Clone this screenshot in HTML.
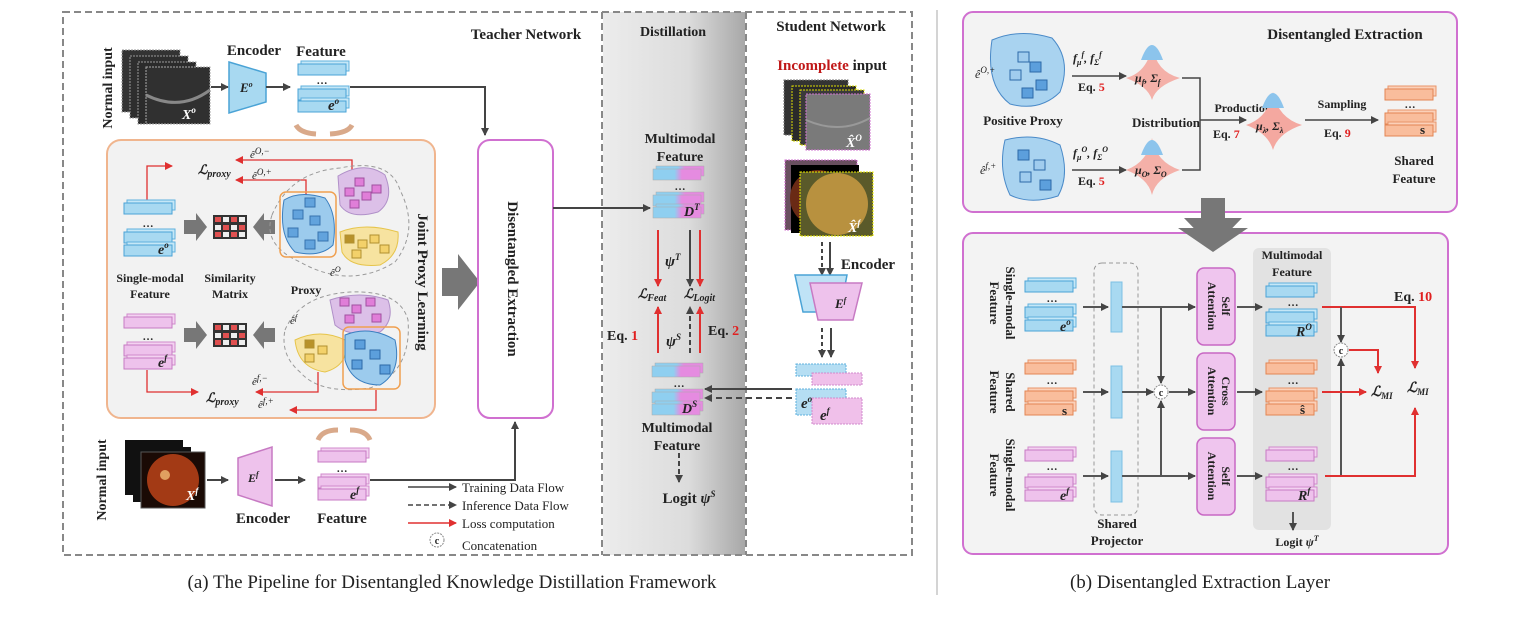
<!DOCTYPE html>
<html><head><meta charset="utf-8"><style>
html,body{margin:0;padding:0;background:#fff}
svg{display:block}
text{font-family:"Liberation Serif",serif;font-weight:bold;fill:#222}
.i{font-style:italic}
.n{font-weight:normal}
</style></head><body>
<svg width="1532" height="629" viewBox="0 0 1532 629" xmlns="http://www.w3.org/2000/svg">
<defs>
<linearGradient id="dg" x1="0" x2="1"><stop offset="0" stop-color="#ececec"/><stop offset="0.6" stop-color="#dcdcdc"/><stop offset="1" stop-color="#a8a8a8"/></linearGradient>
<linearGradient id="mm" x1="0" x2="1"><stop offset="0.45" stop-color="#8fcff0"/><stop offset="0.6" stop-color="#e58be0"/></linearGradient>
<g id="bB"><rect x="3" y="0" width="48" height="10" fill="#c5e7f7" stroke="#5fb0dd"/><rect x="0" y="3" width="48" height="11" fill="#a8d9f1" stroke="#4aa3d6"/></g>
<g id="bO"><rect x="3" y="0" width="48" height="10" fill="#fbd0b8" stroke="#e8956a"/><rect x="0" y="3" width="48" height="11" fill="#f9bd9c" stroke="#e38553"/></g>
<g id="bP"><rect x="3" y="0" width="48" height="10" fill="#f3d2f1" stroke="#d08acc"/><rect x="0" y="3" width="48" height="11" fill="#eec2ec" stroke="#c77ac3"/></g>
<g id="bM"><rect x="3" y="0" width="48" height="10" fill="url(#mm)" stroke="#aaa" stroke-width="0.5"/><rect x="0" y="3" width="48" height="11" fill="url(#mm)" stroke="#aaa" stroke-width="0.5"/></g>
<marker id="ak" markerWidth="8" markerHeight="8" refX="7" refY="4" orient="auto" markerUnits="userSpaceOnUse"><path d="M0,0 L8,4 L0,8 z" fill="#444"/></marker>
<marker id="ar" markerWidth="8" markerHeight="8" refX="7" refY="4" orient="auto" markerUnits="userSpaceOnUse"><path d="M0,0 L8,4 L0,8 z" fill="#e03030"/></marker>
</defs>

<!-- ===== (a) ===== -->
<rect x="603" y="12" width="142" height="543" fill="url(#dg)"/>
<rect x="63" y="12" width="849" height="543" fill="none" stroke="#888" stroke-width="2" stroke-dasharray="7,4"/>
<line x1="602" y1="12" x2="602" y2="555" stroke="#888" stroke-width="2" stroke-dasharray="7,4"/>
<line x1="746" y1="12" x2="746" y2="555" stroke="#888" stroke-width="2" stroke-dasharray="7,4"/>
<text x="526" y="39" font-size="15" text-anchor="middle">Teacher Network</text>
<text x="673" y="36" font-size="14" text-anchor="middle">Distillation</text>
<text x="831" y="31" font-size="15" text-anchor="middle">Student Network</text>

<!-- top normal input -->
<text transform="translate(112,88) rotate(-90)" font-size="14" text-anchor="middle">Normal input</text>
<rect x="122" y="50" width="58" height="62" fill="#333" stroke="#999" stroke-dasharray="2,1"/>
<rect x="130" y="56" width="58" height="62" fill="#2e2e2e" stroke="#999" stroke-dasharray="2,1"/>
<rect x="138" y="62" width="58" height="62" fill="#2b2b2b" stroke="#999" stroke-dasharray="2,1"/>
<rect x="146" y="67" width="64" height="57" fill="#303030" stroke="#aaa" stroke-dasharray="2,1"/>
<path d="M146,95 Q180,112 210,90" stroke="#888" stroke-width="3" fill="none"/>
<text x="182" y="119" font-size="14" class="i" fill="#fff" style="fill:#fff">X<tspan font-size="9" dy="-6">o</tspan></text>
<line x1="211" y1="87" x2="228" y2="87" stroke="#444" stroke-width="2" marker-end="url(#ak)"/>
<text x="254" y="55" font-size="15" text-anchor="middle">Encoder</text>
<polygon points="229,62 266,73 266,102 229,113" fill="#a8d9f1" stroke="#4aa3d6" stroke-width="1.5"/>
<text x="240" y="92" font-size="13" class="i">E<tspan font-size="8" dy="-5">o</tspan></text>
<line x1="266" y1="87" x2="290" y2="87" stroke="#444" stroke-width="2" marker-end="url(#ak)"/>
<text x="321" y="56" font-size="15" text-anchor="middle">Feature</text>
<use href="#bB" x="298" y="61"/><text x="322" y="84" font-size="11" text-anchor="middle">…</text>
<use href="#bB" x="298" y="86"/><use href="#bB" x="298" y="98"/>
<text x="328" y="110" font-size="15" class="i">e<tspan font-size="9" dy="-6">o</tspan></text>
<path d="M296,125 Q300,133 316,134" stroke="#d9a98a" stroke-width="5" fill="none"/><path d="M330,134 Q348,133 352,125" stroke="#d9a98a" stroke-width="5" fill="none"/>
<polyline points="350,87 485,87 485,135" fill="none" stroke="#444" stroke-width="2" marker-end="url(#ak)"/>

<!-- Joint proxy box -->
<rect x="107" y="140" width="328" height="278" rx="14" fill="#f2f2f2" stroke="#f0b58e" stroke-width="2"/>
<text transform="translate(418,282) rotate(90)" font-size="15" text-anchor="middle">Joint Proxy Learning</text>
<polygon points="442,268 458,268 458,254 480,282 458,310 458,296 442,296" fill="#777"/>
<rect x="478" y="140" width="75" height="278" rx="12" fill="#fff" stroke="#d070d0" stroke-width="2"/>
<text transform="translate(508,279) rotate(90)" font-size="15" text-anchor="middle">Disentangled Extraction</text>
<line x1="553" y1="208" x2="650" y2="208" stroke="#444" stroke-width="2" marker-end="url(#ak)"/>

<!-- upper proxy -->
<text x="198" y="174" font-size="13" class="i">ℒ<tspan font-size="10" dy="3">proxy</tspan></text>
<text x="250" y="158" font-size="11" class="i n">ê<tspan font-size="9" dy="-4">O,−</tspan></text>
<text x="252" y="179" font-size="11" class="i n">ê<tspan font-size="9" dy="-4">O,+</tspan></text>
<polyline points="352,203 352,160 236,160" fill="none" stroke="#e03030" stroke-width="1.3" marker-end="url(#ar)"/>
<polyline points="306,210 306,180 236,180" fill="none" stroke="#e03030" stroke-width="1.3" marker-end="url(#ar)"/>
<polyline points="147,200 147,166 172,166" fill="none" stroke="#e03030" stroke-width="1.3" marker-end="url(#ar)"/>
<use href="#bB" x="124" y="200"/><text x="148" y="227" font-size="11" text-anchor="middle">…</text>
<use href="#bB" x="124" y="229"/><use href="#bB" x="124" y="242"/>
<text x="158" y="254" font-size="14" class="i">e<tspan font-size="9" dy="-6">o</tspan></text>
<text x="150" y="282" font-size="12" text-anchor="middle">Single-modal</text><text x="150" y="298" font-size="12" text-anchor="middle">Feature</text>
<polygon points="184,220 196,220 196,213 207,227 196,241 196,234 184,234" fill="#777"/>
<g transform="translate(213,215)"><rect width="34" height="24" fill="#333"/>
<g fill="#e05050"><rect x="2" y="2" width="6" height="5"/><rect x="18" y="2" width="6" height="5"/><rect x="10" y="10" width="6" height="5"/><rect x="26" y="10" width="6" height="5"/><rect x="2" y="17" width="6" height="5"/><rect x="18" y="17" width="6" height="5"/></g>
<g fill="#eee"><rect x="10" y="2" width="6" height="5"/><rect x="26" y="2" width="6" height="5"/><rect x="2" y="10" width="6" height="5"/><rect x="18" y="10" width="6" height="5"/><rect x="10" y="17" width="6" height="5"/><rect x="26" y="17" width="6" height="5"/></g></g>
<text x="230" y="282" font-size="12" text-anchor="middle">Similarity</text><text x="230" y="298" font-size="12" text-anchor="middle">Matrix</text>
<polygon points="275,220 264,220 264,213 253,227 264,241 264,234 275,234" fill="#777"/>
<path d="M272,215 Q290,172 340,168 Q390,158 400,190 Q420,230 395,262 Q350,290 300,262 Q262,245 272,215 z" fill="none" stroke="#999" stroke-dasharray="4,3"/>
<path d="M284,200 Q300,190 325,198 Q338,215 333,245 Q320,258 295,252 Q278,235 284,200 z" fill="#9ccbed" stroke="#3a7fc0"/>
<rect x="280" y="192" width="56" height="65" rx="6" fill="none" stroke="#f0a050" stroke-width="1.5"/>
<g fill="#5c9fdc" stroke="#2d6aa8" opacity="0.9"><rect x="305" y="198" width="10" height="9"/><rect x="293" y="210" width="10" height="9"/><rect x="310" y="216" width="10" height="9"/><rect x="288" y="228" width="10" height="9"/><rect x="318" y="232" width="10" height="9"/><rect x="305" y="240" width="10" height="9"/></g>
<path d="M338,176 Q365,160 385,175 Q395,200 378,212 Q350,220 340,205 z" fill="#dcc0e8" stroke="#b090c8"/>
<g fill="#e07ed8" stroke="#a050a0"><rect x="355" y="178" width="9" height="8"/><rect x="345" y="188" width="9" height="8"/><rect x="362" y="192" width="9" height="8"/><rect x="350" y="200" width="9" height="8"/><rect x="372" y="185" width="9" height="8"/></g>
<path d="M340,232 Q365,222 398,232 Q400,255 380,265 Q350,268 342,252 z" fill="#f7e3a0" stroke="#e6c44a"/>
<g fill="#f3d16a" stroke="#b09030"><rect x="345" y="235" width="9" height="8" fill="#b8922a"/><rect x="358" y="240" width="9" height="8"/><rect x="370" y="235" width="9" height="8"/><rect x="352" y="250" width="9" height="8"/><rect x="380" y="245" width="9" height="8"/></g>
<text x="330" y="276" font-size="11" class="i n">ê<tspan font-size="8" dy="-4">O</tspan></text>
<text x="306" y="294" font-size="12" text-anchor="middle">Proxy</text>

<!-- lower proxy -->
<use href="#bP" x="124" y="314"/><text x="148" y="340" font-size="11" text-anchor="middle">…</text>
<use href="#bP" x="124" y="342"/><use href="#bP" x="124" y="355"/>
<text x="158" y="367" font-size="14" class="i">e<tspan font-size="9" dy="-6">f</tspan></text>
<polyline points="147,370 147,392 198,392" fill="none" stroke="#e03030" stroke-width="1.3" marker-end="url(#ar)"/>
<polygon points="184,328 196,328 196,321 207,335 196,349 196,342 184,342" fill="#777"/>
<g transform="translate(213,323)"><rect width="34" height="24" fill="#333"/>
<g fill="#e05050"><rect x="2" y="2" width="6" height="5"/><rect x="18" y="2" width="6" height="5"/><rect x="10" y="10" width="6" height="5"/><rect x="26" y="10" width="6" height="5"/><rect x="2" y="17" width="6" height="5"/><rect x="18" y="17" width="6" height="5"/></g>
<g fill="#eee"><rect x="10" y="2" width="6" height="5"/><rect x="26" y="2" width="6" height="5"/><rect x="2" y="10" width="6" height="5"/><rect x="18" y="10" width="6" height="5"/><rect x="10" y="17" width="6" height="5"/><rect x="26" y="17" width="6" height="5"/></g></g>
<polygon points="275,328 264,328 264,321 253,335 264,349 264,342 275,342" fill="#777"/>
<path d="M285,330 Q300,295 350,292 Q400,290 408,320 Q412,372 370,388 Q320,395 300,372 Q280,355 285,330 z" fill="none" stroke="#999" stroke-dasharray="4,3"/>
<path d="M330,300 Q360,290 388,300 Q395,320 380,332 Q350,338 335,325 z" fill="#dcc0e8" stroke="#b090c8"/>
<g fill="#e07ed8" stroke="#a050a0"><rect x="340" y="298" width="9" height="8"/><rect x="352" y="305" width="9" height="8"/><rect x="366" y="298" width="9" height="8"/><rect x="345" y="315" width="9" height="8"/><rect x="372" y="314" width="9" height="8"/></g>
<path d="M295,340 Q320,328 345,340 Q350,365 325,372 Q298,368 295,340 z" fill="#f7e3a0" stroke="#e6c44a"/>
<g fill="#f3d16a" stroke="#b09030"><rect x="305" y="340" width="9" height="8" fill="#b8922a"/><rect x="318" y="346" width="9" height="8"/><rect x="305" y="354" width="9" height="8"/></g>
<path d="M345,335 Q370,325 395,340 Q402,372 380,385 Q352,385 345,360 z" fill="#9ccbed" stroke="#3a7fc0"/>
<rect x="343" y="327" width="57" height="62" rx="6" fill="none" stroke="#f0a050" stroke-width="1.5"/>
<g fill="#5c9fdc" stroke="#2d6aa8"><rect x="355" y="340" width="10" height="9"/><rect x="370" y="350" width="10" height="9"/><rect x="352" y="360" width="10" height="9"/><rect x="380" y="365" width="10" height="9"/></g>
<text x="290" y="324" font-size="11" class="i n">ê<tspan font-size="8" dy="-4">f</tspan></text>
<text x="252" y="385" font-size="11" class="i n">ê<tspan font-size="9" dy="-4">f,−</tspan></text>
<text x="258" y="408" font-size="11" class="i n">ê<tspan font-size="9" dy="-4">f,+</tspan></text>
<polyline points="318,372 318,392 256,392" fill="none" stroke="#e03030" stroke-width="1.3" marker-end="url(#ar)"/>
<polyline points="376,390 376,410 290,410" fill="none" stroke="#e03030" stroke-width="1.3" marker-end="url(#ar)"/>
<text x="206" y="402" font-size="13" class="i">ℒ<tspan font-size="10" dy="3">proxy</tspan></text>

<!-- bottom normal input -->
<text transform="translate(106,480) rotate(-90)" font-size="14" text-anchor="middle">Normal input</text>
<rect x="125" y="440" width="58" height="55" fill="#111"/><rect x="133" y="447" width="58" height="55" fill="#111"/>
<rect x="141" y="452" width="64" height="56" fill="#1a0a05" stroke="#555"/>
<circle cx="173" cy="480" r="26" fill="#a33a15"/><circle cx="165" cy="475" r="5" fill="#e0a060"/>
<text x="186" y="500" font-size="14" class="i" style="fill:#fff">X<tspan font-size="9" dy="-6">f</tspan></text>
<line x1="207" y1="480" x2="228" y2="480" stroke="#444" stroke-width="2" marker-end="url(#ak)"/>
<polygon points="238,458 272,447 272,506 238,495" fill="#eec2ec" stroke="#c77ac3" stroke-width="1.5"/>
<text x="248" y="482" font-size="12" class="i">E<tspan font-size="8" dy="-5">f</tspan></text>
<text x="263" y="523" font-size="15" text-anchor="middle">Encoder</text>
<line x1="275" y1="480" x2="305" y2="480" stroke="#444" stroke-width="2" marker-end="url(#ak)"/>
<path d="M318,440 Q322,430 338,430" stroke="#d9a98a" stroke-width="5" fill="none"/><path d="M350,430 Q366,430 370,440" stroke="#d9a98a" stroke-width="5" fill="none"/>
<use href="#bP" x="318" y="448"/><text x="342" y="472" font-size="11" text-anchor="middle">…</text>
<use href="#bP" x="318" y="474"/><use href="#bP" x="318" y="486"/>
<text x="350" y="499" font-size="14" class="i">e<tspan font-size="9" dy="-6">f</tspan></text>
<text x="342" y="523" font-size="15" text-anchor="middle">Feature</text>
<polyline points="370,480 515,480 515,422" fill="none" stroke="#444" stroke-width="2" marker-end="url(#ak)"/>

<!-- legend -->
<line x1="408" y1="487" x2="456" y2="487" stroke="#444" stroke-width="1.5" marker-end="url(#ak)"/>
<text x="462" y="492" font-size="13" class="n">Training Data Flow</text>
<line x1="408" y1="505" x2="456" y2="505" stroke="#444" stroke-width="1.5" stroke-dasharray="5,3" marker-end="url(#ak)"/>
<text x="462" y="510" font-size="13" class="n">Inference Data Flow</text>
<line x1="408" y1="523" x2="456" y2="523" stroke="#e03030" stroke-width="1.5" marker-end="url(#ar)"/>
<text x="462" y="528" font-size="13" class="n">Loss computation</text>
<circle cx="437" cy="540" r="7" fill="#fff" stroke="#888" stroke-dasharray="2,1"/><text x="437" y="544" font-size="10" text-anchor="middle" font-family="Liberation Sans">c</text>
<text x="462" y="550" font-size="13" class="n">Concatenation</text>

<!-- distillation content -->
<text x="680" y="143" font-size="14" text-anchor="middle">Multimodal</text>
<text x="680" y="161" font-size="14" text-anchor="middle">Feature</text>
<use href="#bM" x="653" y="166"/><text x="680" y="190" font-size="11" text-anchor="middle">…</text>
<use href="#bM" x="653" y="192"/><use href="#bM" x="653" y="204"/>
<text x="684" y="216" font-size="14" class="i">D<tspan font-size="9" dy="-6">T</tspan></text>
<line x1="658" y1="230" x2="658" y2="286" stroke="#e03030" stroke-width="2" marker-end="url(#ar)"/>
<line x1="690" y1="230" x2="690" y2="286" stroke="#444" stroke-width="2" marker-end="url(#ak)"/>
<line x1="700" y1="230" x2="700" y2="286" stroke="#e03030" stroke-width="2" marker-end="url(#ar)"/>
<text x="665" y="266" font-size="15" class="i">ψ<tspan font-size="9" dy="-6">T</tspan></text>
<text x="638" y="298" font-size="13" class="i">ℒ<tspan font-size="10" dy="3">Feat</tspan></text>
<text x="684" y="298" font-size="13" class="i">ℒ<tspan font-size="10" dy="3">Logit</tspan></text>
<line x1="658" y1="353" x2="658" y2="307" stroke="#e03030" stroke-width="2" marker-end="url(#ar)"/>
<line x1="690" y1="353" x2="690" y2="307" stroke="#444" stroke-width="2" stroke-dasharray="5,3" marker-end="url(#ak)"/>
<line x1="700" y1="353" x2="700" y2="307" stroke="#e03030" stroke-width="2" marker-end="url(#ar)"/>
<text x="666" y="346" font-size="15" class="i">ψ<tspan font-size="9" dy="-6">S</tspan></text>
<text x="607" y="340" font-size="14">Eq. <tspan style="fill:#e02020" fill="#e02020">1</tspan></text>
<text x="708" y="335" font-size="14">Eq. <tspan style="fill:#e02020" fill="#e02020">2</tspan></text>
<use href="#bM" x="652" y="363"/><text x="679" y="387" font-size="11" text-anchor="middle">…</text>
<use href="#bM" x="652" y="389"/><use href="#bM" x="652" y="401"/>
<text x="682" y="413" font-size="14" class="i">D<tspan font-size="9" dy="-6">S</tspan></text>
<text x="677" y="432" font-size="14" text-anchor="middle">Multimodal</text>
<text x="677" y="450" font-size="14" text-anchor="middle">Feature</text>
<line x1="679" y1="453" x2="679" y2="482" stroke="#444" stroke-width="2" stroke-dasharray="5,3" marker-end="url(#ak)"/>
<text x="689" y="503" font-size="15" text-anchor="middle">Logit <tspan class="i">ψ</tspan><tspan font-size="9" dy="-6" class="i">S</tspan></text>

<!-- student -->
<text x="832" y="70" font-size="15" text-anchor="middle"><tspan style="fill:#c01818">Incomplete</tspan> input</text>
<rect x="784" y="80" width="64" height="55" fill="#333" stroke="#777" stroke-dasharray="2,1"/>
<rect x="792" y="86" width="64" height="55" fill="#2a2a2a" stroke="#dd0" stroke-dasharray="2,1"/>
<rect x="800" y="90" width="64" height="55" fill="#3a3a3a" stroke="#dd0" stroke-dasharray="2,1"/>
<rect x="806" y="94" width="64" height="56" fill="#7a7a7a" stroke="#d070d0" stroke-dasharray="2,1"/>
<path d="M806,120 Q840,135 870,118" stroke="#999" stroke-width="2" fill="none"/>
<text x="846" y="147" font-size="14" class="i" style="fill:#fff">X̂<tspan font-size="9" dy="-6">O</tspan></text>
<rect x="785" y="160" width="72" height="70" fill="#6a5060" stroke="#d070d0" stroke-dasharray="2,1"/>
<rect x="791" y="165" width="68" height="68" fill="#000"/><circle cx="818" cy="198" r="28" fill="#6a2a15"/>
<rect x="800" y="172" width="73" height="64" fill="#5a5a2a" stroke="#ee0" stroke-dasharray="2,1"/>
<circle cx="837" cy="204" r="31" fill="#b8913f"/>
<text x="848" y="232" font-size="14" class="i" style="fill:#fff">X̂<tspan font-size="9" dy="-6">f</tspan></text>
<line x1="822" y1="242" x2="822" y2="275" stroke="#444" stroke-width="2" stroke-dasharray="4,3" marker-end="url(#ak)"/>
<line x1="830" y1="242" x2="830" y2="275" stroke="#444" stroke-width="2" marker-end="url(#ak)"/>
<text x="868" y="269" font-size="15" text-anchor="middle">Encoder</text>
<polygon points="795,275 847,275 840,312 803,312" fill="#bfe3f6" stroke="#4aa3d6" stroke-width="1.5"/>
<polygon points="810,283 862,283 853,320 818,320" fill="#eec2ec" stroke="#c77ac3" stroke-width="1.5"/>
<text x="835" y="308" font-size="13" class="i">E<tspan font-size="8" dy="-5">f</tspan></text>
<line x1="822" y1="328" x2="822" y2="357" stroke="#444" stroke-width="2" stroke-dasharray="4,3" marker-end="url(#ak)"/>
<line x1="831" y1="328" x2="831" y2="357" stroke="#444" stroke-width="2" marker-end="url(#ak)"/>
<rect x="796" y="364" width="50" height="12" fill="#b5def3" stroke="#5fb0dd" stroke-dasharray="2,1"/>
<rect x="812" y="373" width="50" height="12" fill="#f0c0ea" stroke="#d08acc" stroke-dasharray="2,1"/>
<rect x="796" y="389" width="50" height="26" fill="#b5def3" stroke="#5fb0dd" stroke-dasharray="2,1"/>
<rect x="812" y="398" width="50" height="26" fill="#f0c0ea" stroke="#d08acc" stroke-dasharray="2,1"/>
<text x="801" y="408" font-size="15" class="i">e<tspan font-size="9" dy="-6">o</tspan></text>
<text x="820" y="420" font-size="15" class="i">e<tspan font-size="9" dy="-6">f</tspan></text>
<line x1="792" y1="389" x2="705" y2="389" stroke="#444" stroke-width="2" marker-end="url(#ak)"/>
<line x1="792" y1="398" x2="705" y2="398" stroke="#444" stroke-width="2" stroke-dasharray="6,4" marker-end="url(#ak)"/>

<text x="452" y="588" font-size="19" class="n" text-anchor="middle">(a) The Pipeline for Disentangled Knowledge Distillation Framework</text>
<line x1="937" y1="10" x2="937" y2="595" stroke="#aaa" stroke-width="1"/>

<!-- ===== (b) top ===== -->
<rect x="963" y="12" width="494" height="200" rx="10" fill="#f3f3f3" stroke="#d070d0" stroke-width="2"/>
<text x="1345" y="39" font-size="15" text-anchor="middle">Disentangled Extraction</text>
<path d="M992,40 Q1020,28 1052,38 Q1072,60 1060,92 Q1040,112 1010,104 Q985,85 992,40 z" fill="#a9d3f0" stroke="#4a8ac8"/>
<g fill="#5c9fdc" stroke="#2d6aa8"><rect x="1018" y="52" width="11" height="10" fill="#a0ccee"/><rect x="1030" y="62" width="11" height="10"/><rect x="1010" y="70" width="11" height="10" fill="#a0ccee"/><rect x="1036" y="80" width="11" height="10"/><rect x="1022" y="88" width="11" height="10"/></g>
<text x="975" y="78" font-size="12" class="i n">ê<tspan font-size="9" dy="-5">O,+</tspan></text>
<text x="1023" y="125" font-size="13" text-anchor="middle">Positive Proxy</text>
<path d="M1005,140 Q1035,132 1060,145 Q1070,175 1058,196 Q1030,205 1010,195 Q998,170 1005,140 z" fill="#a9d3f0" stroke="#4a8ac8"/>
<g fill="#5c9fdc" stroke="#2d6aa8"><rect x="1018" y="150" width="11" height="10"/><rect x="1034" y="160" width="11" height="10" fill="#a0ccee"/><rect x="1020" y="172" width="11" height="10" fill="#a0ccee"/><rect x="1040" y="180" width="11" height="10"/></g>
<text x="980" y="174" font-size="12" class="i n">ê<tspan font-size="9" dy="-5">f,+</tspan></text>
<text x="1073" y="62" font-size="12" class="i">f<tspan font-size="8" dy="3">μ</tspan><tspan font-size="8" dy="-8">f</tspan><tspan dy="5">, f</tspan><tspan font-size="8" dy="3">Σ</tspan><tspan font-size="8" dy="-8">f</tspan></text>
<line x1="1072" y1="76" x2="1126" y2="76" stroke="#444" stroke-width="1.5" marker-end="url(#ak)"/>
<text x="1078" y="91" font-size="12">Eq. <tspan style="fill:#e02020">5</tspan></text>
<text x="1073" y="157" font-size="12" class="i">f<tspan font-size="8" dy="3">μ</tspan><tspan font-size="8" dy="-8">O</tspan><tspan dy="5">, f</tspan><tspan font-size="8" dy="3">Σ</tspan><tspan font-size="8" dy="-8">O</tspan></text>
<line x1="1072" y1="170" x2="1126" y2="170" stroke="#444" stroke-width="1.5" marker-end="url(#ak)"/>
<text x="1078" y="185" font-size="12">Eq. <tspan style="fill:#e02020">5</tspan></text>
<path d="M1126,78 Q1148,72 1152,45 Q1156,72 1180,78 Q1156,86 1152,100 Q1148,86 1126,78 z" fill="#f4a8a0" opacity="0.9"/>
<path d="M1141,60 Q1152,30 1163,60 z" fill="#8cc4ec"/>
<text x="1135" y="82" font-size="12" class="i">μ<tspan font-size="8" dy="3">f</tspan><tspan dy="-3">, Σ</tspan><tspan font-size="8" dy="3">f</tspan></text>
<path d="M1126,170 Q1148,162 1152,138 Q1156,162 1180,170 Q1156,178 1152,195 Q1148,178 1126,170 z" fill="#f4a8a0" opacity="0.9"/>
<path d="M1141,155 Q1152,125 1163,155 z" fill="#8cc4ec"/>
<text x="1135" y="174" font-size="12" class="i">μ<tspan font-size="8" dy="3">O</tspan><tspan dy="-3">, Σ</tspan><tspan font-size="8" dy="3">O</tspan></text>
<text x="1166" y="127" font-size="13" text-anchor="middle">Distribution</text>
<polyline points="1182,78 1200,78 1200,170 1182,170" fill="none" stroke="#444" stroke-width="1.5"/>
<line x1="1200" y1="120" x2="1246" y2="120" stroke="#444" stroke-width="1.5" marker-end="url(#ak)"/>
<text x="1243" y="112" font-size="12" text-anchor="middle">Production</text>
<text x="1213" y="138" font-size="12">Eq. <tspan style="fill:#e02020">7</tspan></text>
<path d="M1246,125 Q1268,118 1273,92 Q1278,118 1302,125 Q1278,133 1273,150 Q1268,133 1246,125 z" fill="#f4a8a0"/>
<path d="M1262,108 Q1273,78 1284,108 z" fill="#8cc4ec"/>
<text x="1256" y="130" font-size="12" class="i">μ<tspan font-size="8" dy="3">λ</tspan><tspan dy="-3">, Σ</tspan><tspan font-size="8" dy="3">λ</tspan></text>
<line x1="1305" y1="120" x2="1378" y2="120" stroke="#444" stroke-width="1.5" marker-end="url(#ak)"/>
<text x="1342" y="108" font-size="12" text-anchor="middle">Sampling</text>
<text x="1324" y="137" font-size="12">Eq. <tspan style="fill:#e02020">9</tspan></text>
<use href="#bO" x="1385" y="86"/><text x="1410" y="108" font-size="11" text-anchor="middle">…</text>
<use href="#bO" x="1385" y="110"/><use href="#bO" x="1385" y="122"/>
<text x="1420" y="134" font-size="13">s</text>
<text x="1414" y="165" font-size="13" text-anchor="middle">Shared</text>
<text x="1414" y="183" font-size="13" text-anchor="middle">Feature</text>
<polygon points="1201,198 1225,198 1225,218 1242,218 1213,248 1184,218 1201,218" fill="#777"/>

<!-- ===== (b) bottom ===== -->
<rect x="963" y="233" width="485" height="321" rx="10" fill="#f3f3f3" stroke="#d070d0" stroke-width="2"/>
<rect x="1253" y="248" width="78" height="282" rx="6" fill="#e2e2e2"/>
<polygon points="1178,228 1248,228 1213,252" fill="#777"/>
<text transform="translate(1006,303) rotate(90)" font-size="13" text-anchor="middle">Single-modal</text>
<text transform="translate(990,303) rotate(90)" font-size="13" text-anchor="middle">Feature</text>
<text transform="translate(1006,392) rotate(90)" font-size="13" text-anchor="middle">Shared</text>
<text transform="translate(990,392) rotate(90)" font-size="13" text-anchor="middle">Feature</text>
<text transform="translate(1006,475) rotate(90)" font-size="13" text-anchor="middle">Single-modal</text>
<text transform="translate(990,475) rotate(90)" font-size="13" text-anchor="middle">Feature</text>
<use href="#bB" x="1025" y="278"/><text x="1052" y="302" font-size="11" text-anchor="middle">…</text>
<use href="#bB" x="1025" y="304"/><use href="#bB" x="1025" y="317"/>
<text x="1060" y="331" font-size="14" class="i">e<tspan font-size="9" dy="-6">o</tspan></text>
<use href="#bO" x="1025" y="360"/><text x="1052" y="384" font-size="11" text-anchor="middle">…</text>
<use href="#bO" x="1025" y="388"/><use href="#bO" x="1025" y="401"/>
<text x="1062" y="415" font-size="13">s</text>
<use href="#bP" x="1025" y="447"/><text x="1052" y="470" font-size="11" text-anchor="middle">…</text>
<use href="#bP" x="1025" y="474"/><use href="#bP" x="1025" y="487"/>
<text x="1060" y="500" font-size="14" class="i">e<tspan font-size="9" dy="-6">f</tspan></text>
<rect x="1094" y="263" width="44" height="252" rx="8" fill="none" stroke="#999" stroke-dasharray="4,3"/>
<rect x="1111" y="282" width="11" height="50" fill="#a8d9f1" stroke="#7cc0e4"/>
<rect x="1111" y="366" width="11" height="52" fill="#a8d9f1" stroke="#7cc0e4"/>
<rect x="1111" y="451" width="11" height="51" fill="#a8d9f1" stroke="#7cc0e4"/>
<text x="1117" y="528" font-size="13" text-anchor="middle">Shared</text>
<text x="1117" y="545" font-size="13" text-anchor="middle">Projector</text>
<line x1="1083" y1="307" x2="1108" y2="307" stroke="#555" stroke-width="2" marker-end="url(#ak)"/>
<line x1="1083" y1="392" x2="1108" y2="392" stroke="#555" stroke-width="2" marker-end="url(#ak)"/>
<line x1="1083" y1="476" x2="1108" y2="476" stroke="#555" stroke-width="2" marker-end="url(#ak)"/>
<line x1="1122" y1="307" x2="1195" y2="307" stroke="#555" stroke-width="2" marker-end="url(#ak)"/>
<line x1="1122" y1="476" x2="1195" y2="476" stroke="#555" stroke-width="2" marker-end="url(#ak)"/>
<line x1="1122" y1="392" x2="1153" y2="392" stroke="#555" stroke-width="2" marker-end="url(#ak)"/>
<line x1="1161" y1="307" x2="1161" y2="383" stroke="#555" stroke-width="2" marker-end="url(#ak)"/>
<line x1="1161" y1="476" x2="1161" y2="401" stroke="#555" stroke-width="2" marker-end="url(#ak)"/>
<circle cx="1161" cy="392" r="7" fill="#fff" stroke="#888" stroke-dasharray="2,1"/><text x="1161" y="396" font-size="10" text-anchor="middle" font-family="Liberation Sans">c</text>
<line x1="1169" y1="392" x2="1195" y2="392" stroke="#555" stroke-width="2" marker-end="url(#ak)"/>
<rect x="1197" y="268" width="38" height="77" rx="7" fill="#efc5ee" stroke="#c868c4" stroke-width="1.5"/>
<rect x="1197" y="353" width="38" height="77" rx="7" fill="#efc5ee" stroke="#c868c4" stroke-width="1.5"/>
<rect x="1197" y="438" width="38" height="77" rx="7" fill="#efc5ee" stroke="#c868c4" stroke-width="1.5"/>
<text transform="translate(1222,306) rotate(90)" font-size="12" text-anchor="middle">Self</text>
<text transform="translate(1208,306) rotate(90)" font-size="12" text-anchor="middle">Attention</text>
<text transform="translate(1222,391) rotate(90)" font-size="12" text-anchor="middle">Cross</text>
<text transform="translate(1208,391) rotate(90)" font-size="12" text-anchor="middle">Attention</text>
<text transform="translate(1222,476) rotate(90)" font-size="12" text-anchor="middle">Self</text>
<text transform="translate(1208,476) rotate(90)" font-size="12" text-anchor="middle">Attention</text>
<line x1="1237" y1="307" x2="1262" y2="307" stroke="#555" stroke-width="2" marker-end="url(#ak)"/>
<line x1="1237" y1="392" x2="1262" y2="392" stroke="#555" stroke-width="2" marker-end="url(#ak)"/>
<line x1="1237" y1="476" x2="1262" y2="476" stroke="#555" stroke-width="2" marker-end="url(#ak)"/>
<text x="1292" y="259" font-size="12" text-anchor="middle">Multimodal</text>
<text x="1292" y="276" font-size="12" text-anchor="middle">Feature</text>
<use href="#bB" x="1266" y="283"/><text x="1293" y="306" font-size="11" text-anchor="middle">…</text>
<use href="#bB" x="1266" y="309"/><use href="#bB" x="1266" y="322"/>
<text x="1296" y="336" font-size="14" class="i">R<tspan font-size="9" dy="-6">O</tspan></text>
<use href="#bO" x="1266" y="360"/><text x="1293" y="384" font-size="11" text-anchor="middle">…</text>
<use href="#bO" x="1266" y="388"/><use href="#bO" x="1266" y="401"/>
<text x="1300" y="414" font-size="13">ŝ</text>
<use href="#bP" x="1266" y="447"/><text x="1293" y="470" font-size="11" text-anchor="middle">…</text>
<use href="#bP" x="1266" y="474"/><use href="#bP" x="1266" y="487"/>
<text x="1298" y="500" font-size="14" class="i">R<tspan font-size="9" dy="-6">f</tspan></text>
<line x1="1293" y1="512" x2="1293" y2="530" stroke="#555" stroke-width="2" marker-end="url(#ak)"/>
<text x="1297" y="546" font-size="12" text-anchor="middle">Logit <tspan class="i">ψ</tspan><tspan font-size="8" dy="-5" class="i">T</tspan></text>
<polyline points="1322,307 1415,307 1415,368" fill="none" stroke="#e03030" stroke-width="2" marker-end="url(#ar)"/>
<text x="1394" y="301" font-size="14">Eq. <tspan style="fill:#e02020">10</tspan></text>
<line x1="1341" y1="307" x2="1341" y2="342" stroke="#555" stroke-width="2" marker-end="url(#ak)"/>
<line x1="1341" y1="476" x2="1341" y2="359" stroke="#555" stroke-width="2" marker-end="url(#ak)"/>
<circle cx="1341" cy="350" r="7" fill="#fff" stroke="#888" stroke-dasharray="2,1"/><text x="1341" y="354" font-size="10" text-anchor="middle" font-family="Liberation Sans">c</text>
<polyline points="1349,350 1378,350 1378,373" fill="none" stroke="#e03030" stroke-width="2" marker-end="url(#ar)"/>
<line x1="1322" y1="392" x2="1366" y2="392" stroke="#e03030" stroke-width="2" marker-end="url(#ar)"/>
<polyline points="1325,476 1415,476 1415,408" fill="none" stroke="#e03030" stroke-width="2" marker-end="url(#ar)"/>
<text x="1371" y="396" font-size="14" class="i">ℒ<tspan font-size="9" dy="3">MI</tspan></text>
<text x="1407" y="392" font-size="14" class="i">ℒ<tspan font-size="9" dy="3">MI</tspan></text>

<text x="1200" y="588" font-size="19" class="n" text-anchor="middle">(b) Disentangled Extraction Layer</text>
</svg>
</body></html>
